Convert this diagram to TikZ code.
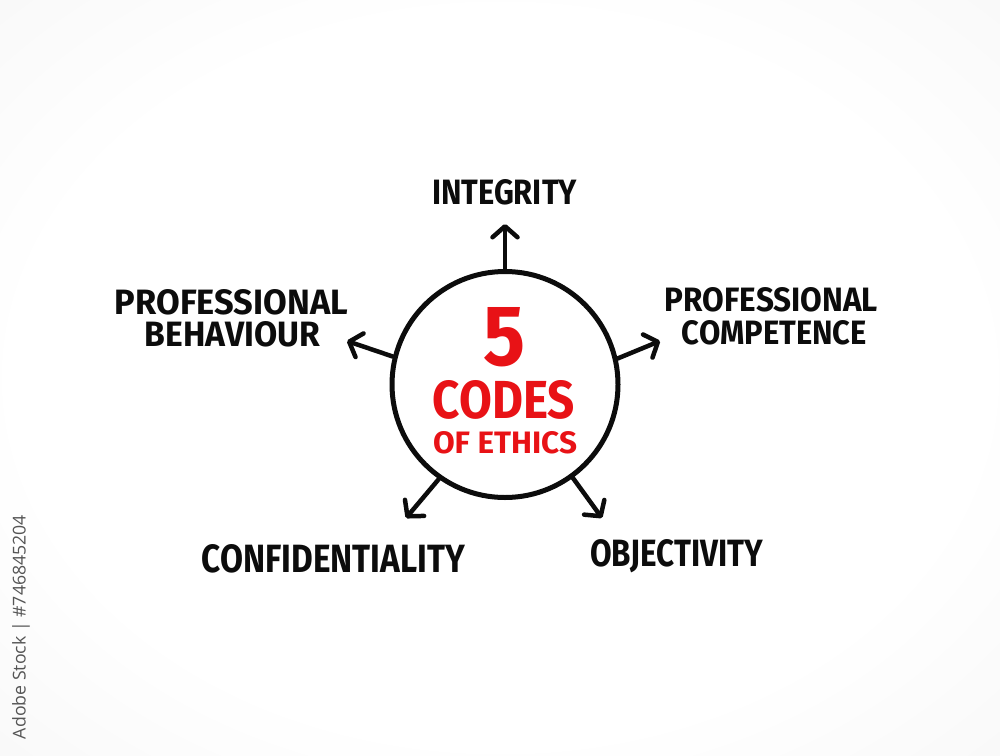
\documentclass[tikz,border=0pt]{standalone}
\usepackage{fontspec}
\setmainfont{Fira Sans}
\newfontfamily\stockfont{Open Sans}
\usetikzlibrary{arrows.meta}
\definecolor{ink}{RGB}{12,12,12}
\definecolor{redink}{RGB}{232,18,22}
\definecolor{bgmid}{RGB}{241,241,241}
\definecolor{bgedge}{RGB}{226,226,226}
\definecolor{stockgray}{RGB}{85,85,85}
\pgfdeclareradialshading{bgshade}{\pgfpoint{0bp}{0bp}}{%
  color(0bp)=(white); color(24bp)=(white); color(50bp)=(bgmid); color(72bp)=(bgedge)}
\newcommand{\fitword}[3]{\resizebox{#1pt}{#2pt}{\bfseries #3}}
\tikzset{
  label/.style={inner sep=0pt, text=ink},
  redlabel/.style={inner sep=0pt, text=redink},
  spoke/.style={draw=ink, line width=4.5pt, line cap=round,
    -{Straight Barb[length=11pt,width=25pt,line width=4.5pt,round]}},
  hub/.style={circle, draw=ink, line width=5pt, minimum size=226pt, inner sep=0pt}
}
\begin{document}
\begin{tikzpicture}[x=1pt,y=-1pt]
\useasboundingbox (0,0) rectangle (1000,755);
\shade[shading=bgshade] (0,0) rectangle (1000,755);

% hub
\node[hub] (c) at (505,384.5) {};

% centre text
\node[redlabel] (five) at (504,337) {\fitword{42}{58}{5}};
\node[redlabel] (codes) at (504,400) {\fitword{142}{38}{CODES}};
\node[redlabel] (ethics) at (505,442.5) {\fitword{144}{22}{OF ETHICS}};

% labels
\node[label] (integ) at (504.5,192.5) {\fitword{145}{25}{INTEGRITY}};
\node[label] (pb1) at (231.5,302) {\fitword{233}{25}{PROFESSIONAL}};
\node[label] (pb2) at (232.5,334.5) {\fitword{175}{25}{BEHAVIOUR}};
\node[label] (pc1) at (771.5,300) {\fitword{213}{24}{PROFESSIONAL}};
\node[label] (pc2) at (774.5,333) {\fitword{185}{24}{COMPETENCE}};
\node[label] (conf) at (333.5,559) {\fitword{263}{28}{CONFIDENTIALITY}};
\node[label] (obj) at (676.5,556.5) {\fitword{173}{27}{OBJECTIVITY}};

% arrow tips
\coordinate (tU) at (505,224);
\coordinate (tL) at (347,341);
\coordinate (tR) at (660,341);
\coordinate (tDL) at (406,518);
\coordinate (tDR) at (602,518);

\draw[spoke] (c.90) -- (tU);
\draw[spoke] (c.166.7) -- (tL);
\draw[spoke] (c.13.5) -- (tR);
\draw[spoke] (c.-125.5) -- (tDL);
\draw[spoke] (c.-54) -- (tDR);

% stock id
\node[rotate=90, inner sep=0pt, text=stockgray] (stock) at (21,627)
  {\resizebox{224pt}{!}{\stockfont Adobe Stock | \#746845204}};
\end{tikzpicture}
\end{document}
